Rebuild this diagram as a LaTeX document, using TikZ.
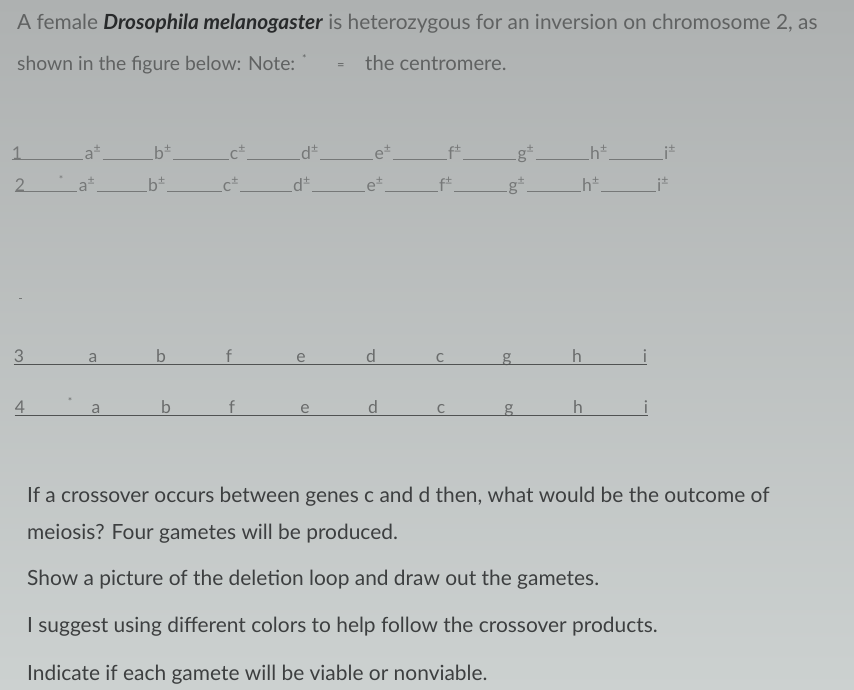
\documentclass[tikz,border=0pt]{standalone}
\usepackage{fontspec}
\setmainfont{Lato}
\usepackage{tikz}

\definecolor{bgtop}{RGB}{174,177,177}
\definecolor{bgbottom}{RGB}{204,209,208}
\definecolor{txtgray}{RGB}{96,98,98}
\definecolor{txtdark}{RGB}{40,42,43}
\definecolor{genegray}{RGB}{118,120,120}
\definecolor{linegray}{RGB}{80,82,82}

\begin{document}
\begin{tikzpicture}[x=0.03cm, y=-0.03cm,
    para/.style={anchor=base west, inner sep=0pt, font=\fontsize{17.85}{20}\selectfont},
    gene/.style={anchor=base, inner sep=0pt, text=genegray, font=\fontsize{15}{17}\selectfont},
    plaingene/.style={gene, text=linegray!85},
    uline/.style={draw=genegray, line width=0.8pt},
    chrline/.style={draw=linegray, line width=0.9pt}]

    % Background (photo of a screen)
    \shade[top color=bgtop, bottom color=bgbottom] (0,0) rectangle (854,690);
    \useasboundingbox (0,0) rectangle (854,690);

    % Question text at the top
    \node[para, text=txtgray, font=\fontsize{17.8}{20}\selectfont] (intro1) at (17,29) {A female \textcolor{txtdark}{\textbf{\textit{Drosophila melanogaster}}} is heterozygous for an inversion on chromosome 2, as};
    \node[para, text=txtgray, font=\fontsize{16.5}{20}\selectfont] (intro2) at (17,70) {shown in the figure below: Note:};
    \node[para, text=txtgray, font=\fontsize{9}{9}\selectfont] (notestar) at (302,62) {*};
    \node[para, text=txtgray, font=\fontsize{11}{11}\selectfont] (noteeq) at (337,69) {=};
    \node[para, text=txtgray, font=\fontsize{17.3}{20}\selectfont] (notetext) at (365,70) {the centromere.};

    % Chromosome 1
    \node[gene] (r1num) at (17,159) {1};
    \foreach \g/\x in {a/93,b/163,c/238,d/310,e/383,f/455,g/526,h/599,i/670}
        \node[gene] (r1\g) at (\x,159) {\g\textsuperscript{±}};
    \draw[uline] (r1num.base west) -- ([xshift=-1pt]r1a.base west);
    \foreach \p/\q in {a/b,b/c,c/d,d/e,e/f,f/g,g/h,h/i}
        \draw[uline] ([xshift=1pt]r1\p.base east) -- ([xshift=-1pt]r1\q.base west);

    % Chromosome 2
    \node[gene] (r2num) at (20,191) {2};
    \node[gene, font=\fontsize{9}{9}\selectfont] (r2star) at (61,183) {*};
    \foreach \g/\x in {a/87,b/157,c/231,d/302,e/375,f/446,g/517,h/591,i/663}
        \node[gene] (r2\g) at (\x,191) {\g\textsuperscript{±}};
    \draw[uline] (r2num.base west) -- ([xshift=-1pt]r2a.base west);
    \foreach \p/\q in {a/b,b/c,c/d,d/e,e/f,f/g,g/h,h/i}
        \draw[uline] ([xshift=1pt]r2\p.base east) -- ([xshift=-1pt]r2\q.base west);

    % small mark on the screen
    \draw[genegray, line width=0.8pt] (19,298) -- (22,298);

    % Chromosome 3 (inverted segment c--f)
    \node[plaingene] (r3num) at (19,362) {3};
    \foreach \g/\x in {a/93,b/161,f/229,e/301,d/371,c/440,g/507,h/577,i/645}
        \node[plaingene] (r3\g) at (\x,362) {\g};
    \draw[chrline] ([yshift=-2pt]r3num.base west) -- ([yshift=-2pt]r3i.base east);

    % Chromosome 4
    \node[plaingene] (r4num) at (20,413) {4};
    \node[plaingene, font=\fontsize{9}{9}\selectfont] (r4star) at (70,405) {*};
    \foreach \g/\x in {a/96,b/166,f/232,e/305,d/373,c/441,g/509,h/578,i/646}
        \node[plaingene] (r4\g) at (\x,413) {\g};
    \draw[chrline] ([yshift=-2pt]r4num.base west) -- ([yshift=-2pt]r4i.base east);

    % Question text at the bottom
    \node[para, text=txtdark!90] (ask1) at (27,502) {If a crossover occurs between genes c and d then, what would be the outcome of};
    \node[para, text=txtdark!90] (ask2) at (27,539) {meiosis? Four gametes will be produced.};
    \node[para, text=txtdark!90] (ask3) at (27,585) {Show a picture of the deletion loop and draw out the gametes.};
    \node[para, text=txtdark!90] (ask4) at (27,632) {I suggest using different colors to help follow the crossover products.};
    \node[para, text=txtdark!90] (ask5) at (27,680) {Indicate if each gamete will be viable or nonviable.};
\end{tikzpicture}
\end{document}
